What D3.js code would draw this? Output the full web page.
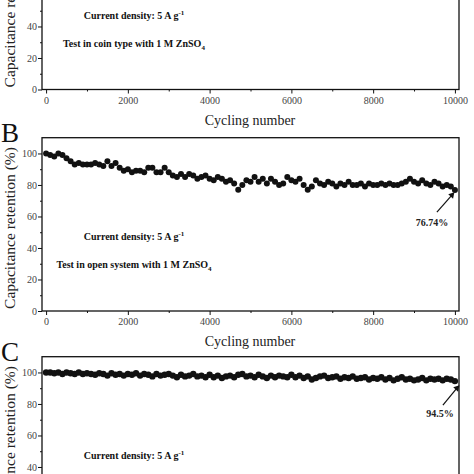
<!DOCTYPE html>
<html lang="en">
<head>
<meta charset="utf-8">
<title>Capacitance retention</title>
<script src="https://d3js.org/d3.v7.min.js"></script>
<style>
  body { margin: 0; background: #fff; }
  .tick text { font-family: "Liberation Serif", "Times New Roman", serif; font-size: 10px; fill: #444; }
  .tick line { stroke: #111; }
</style>
</head>
<body>
<div id="chart"></div>
<script>
// tick labels
const xTicks = [0, 2000, 4000, 6000, 8000, 10000];
const xMinor = [1000, 3000, 5000, 7000, 9000];
const yTicks = [0, 20, 40, 60, 80, 100];
const yMinor = [10, 30, 50, 70, 90];

// one reading every 100 cycles, 0 ... 10000
const cycleStep = 100;

// B: open system
const retentionB = [
  100, 99, 98, 100, 99, 97, 95, 93, 94, 93,
  93, 93, 94, 93, 92, 95, 92, 94, 91, 89,
  90, 88, 89, 89, 88, 91, 91, 88, 88, 91,
  88, 86, 85, 87, 85, 87, 86, 84, 85, 86,
  84, 83, 85, 84, 82, 83, 81, 77, 80, 83,
  82, 85, 82, 84, 81, 84, 82, 80, 81, 85,
  83, 82, 84, 80, 77, 79, 83, 81, 80, 82,
  81, 79, 81, 80, 82, 80, 80, 81, 79, 81,
  80, 80, 81, 80, 81, 80, 80, 81, 82, 84,
  82, 81, 83, 81, 80, 82, 81, 79, 80, 79,
  76.74
];

// C: coin cell
const retentionC = [
  100, 100, 99.5, 100, 99, 100, 99.5, 99, 100, 99,
  99.5, 99, 98.5, 99.5, 99, 98, 99.5, 98.5, 99, 98,
  99, 98.5, 99.5, 98, 99, 98.5, 97.5, 99, 98, 98.5,
  99, 98, 97, 98.5, 97.5, 98, 99, 97.5, 98, 97,
  98.5, 97, 98, 96.5, 97.5, 98, 97, 98.5, 99, 97.5,
  98, 97, 98.5, 97.5, 96.5, 98, 97, 98, 97.5, 97,
  98.5, 97, 98, 96.5, 97.5, 95.5, 96.5, 97.5, 98, 96.5,
  97, 97.5, 96, 97, 96.5, 97.5, 96, 96.5, 97, 95.5,
  96.5, 96, 97, 95.5, 96.5, 95, 96, 97, 95.5, 96,
  95, 95.5, 96.5, 95, 96, 95.5, 96, 95, 96, 95.5,
  94.5
];

const serif = '"Liberation Serif", "Times New Roman", serif';
const W = 474, H = 474;

const svg = d3.select('#chart').append('svg')
    .attr('width', W)
    .attr('height', H)
    .style('background', '#fff');

const x = d3.scaleLinear().domain([-100, 10100]).range([42, 459]);
const plotH = 173.3;

function drawPanel(p) {
    const y = d3.scaleLinear().domain([0, 110]).range([p.bottom, p.bottom - plotH]);
    const g = svg.append('g');
    const onScreen = t => y(t) > 6 && y(t) < H - 6;
    const bottomVisible = p.bottom < H;

    // axes
    if (bottomVisible) {
        const xa = g.append('g').attr('transform', `translate(0,${p.bottom})`)
            .call(d3.axisBottom(x).tickValues(xTicks).tickSize(4).tickPadding(3).tickFormat(d3.format('d')));
        xa.select('.domain').remove();
        const xm = g.append('g').attr('transform', `translate(0,${p.bottom})`)
            .call(d3.axisBottom(x).tickValues(xMinor).tickSize(2).tickFormat(''));
        xm.select('.domain').remove();

        g.append('text')
            .attr('x', 250).attr('y', p.bottom + 35)
            .attr('text-anchor', 'middle')
            .style('font-family', serif).style('font-size', '14px').attr('fill', '#222')
            .text('Cycling number');
    }

    const ya = g.append('g').attr('transform', 'translate(42,0)')
        .call(d3.axisLeft(y).tickValues(yTicks.filter(onScreen)).tickSize(4).tickPadding(1));
    ya.select('.domain').remove();
    const ym = g.append('g').attr('transform', 'translate(42,0)')
        .call(d3.axisLeft(y).tickValues(yMinor).tickSize(2).tickFormat(''));
    ym.select('.domain').remove();

    // frame
    g.append('rect')
        .attr('x', x(-100)).attr('y', y(110))
        .attr('width', x(10100) - x(-100)).attr('height', y(0) - y(110))
        .attr('fill', 'none').attr('stroke', '#111').attr('stroke-width', 1.3);

    // y title (cropped at the picture edge, as in the source)
    g.append('text')
        .attr('transform', `translate(15,${p.bottom - 83}) rotate(-90)`)
        .attr('text-anchor', 'middle')
        .style('font-family', serif).style('font-size', '15.5px').attr('fill', '#222')
        .text('Capacitance retention (%)');

    if (y(110) > 0) {
        g.append('text')
            .attr('x', 1).attr('y', y(110) + 4)
            .style('font-family', serif).style('font-size', '27px').attr('fill', '#111')
            .text(p.label);
    }

    // notes
    const cd = g.append('text')
        .attr('x', 134).attr('y', p.bottom - 71)
        .attr('text-anchor', 'middle')
        .style('font-family', serif).style('font-size', '10px').style('font-weight', 'bold').attr('fill', '#111');
    cd.append('tspan').text('Current density: 5 A g');
    cd.append('tspan').attr('dy', -4).style('font-size', '7px').text('-1');

    if (p.note) {
        const tn = g.append('text')
            .attr('x', 134).attr('y', p.bottom - 43)
            .attr('text-anchor', 'middle')
            .style('font-family', serif).style('font-size', '10px').style('font-weight', 'bold').attr('fill', '#111');
        tn.append('tspan').text(p.note);
        tn.append('tspan').attr('dy', 3).style('font-size', '7px').text('4');
    }

    // data
    if (p.data) {
        g.append('g').selectAll('circle')
            .data(p.data)
            .join('circle')
            .attr('cx', (d, i) => x(i * cycleStep))
            .attr('cy', d => y(d))
            .attr('r', p.r)
            .attr('fill', '#111');

        const last = p.data[p.data.length - 1];
        const ex = x(10000), ey = y(last);
        const a = p.arrow;
        g.append('line')
            .attr('x1', ex + a[0]).attr('y1', ey + a[1])
            .attr('x2', ex + a[2]).attr('y2', ey + a[3])
            .attr('stroke', '#111').attr('stroke-width', 1.2);
        g.append('path')
            .attr('d', d3.symbol(d3.symbolTriangle, 18)())
            .attr('transform', `translate(${ex + a[2]},${ey + a[3]}) rotate(42)`)
            .attr('fill', '#111');
        g.append('text')
            .attr('x', ex + p.labelDx).attr('y', ey + 36)
            .attr('text-anchor', 'middle')
            .style('font-family', serif).style('font-size', '10px').style('font-weight', 'bold').attr('fill', '#222')
            .text(p.endLabel);
    }
}

// A's data sits above the cropped top edge
drawPanel({ label: 'A', bottom: 89.5, note: 'Test in coin type with 1 M ZnSO' });
drawPanel({ label: 'B', bottom: 311, note: 'Test in open system with 1 M ZnSO', data: retentionB, r: 3,
            endLabel: '76.74%', labelDx: -23, arrow: [-18, 22, -3, 5] });
drawPanel({ label: 'C', bottom: 530, data: retentionC, r: 3.2,
            endLabel: '94.5%', labelDx: -15, arrow: [-12, 24, 2, 7] });
</script>
</body>
</html>
